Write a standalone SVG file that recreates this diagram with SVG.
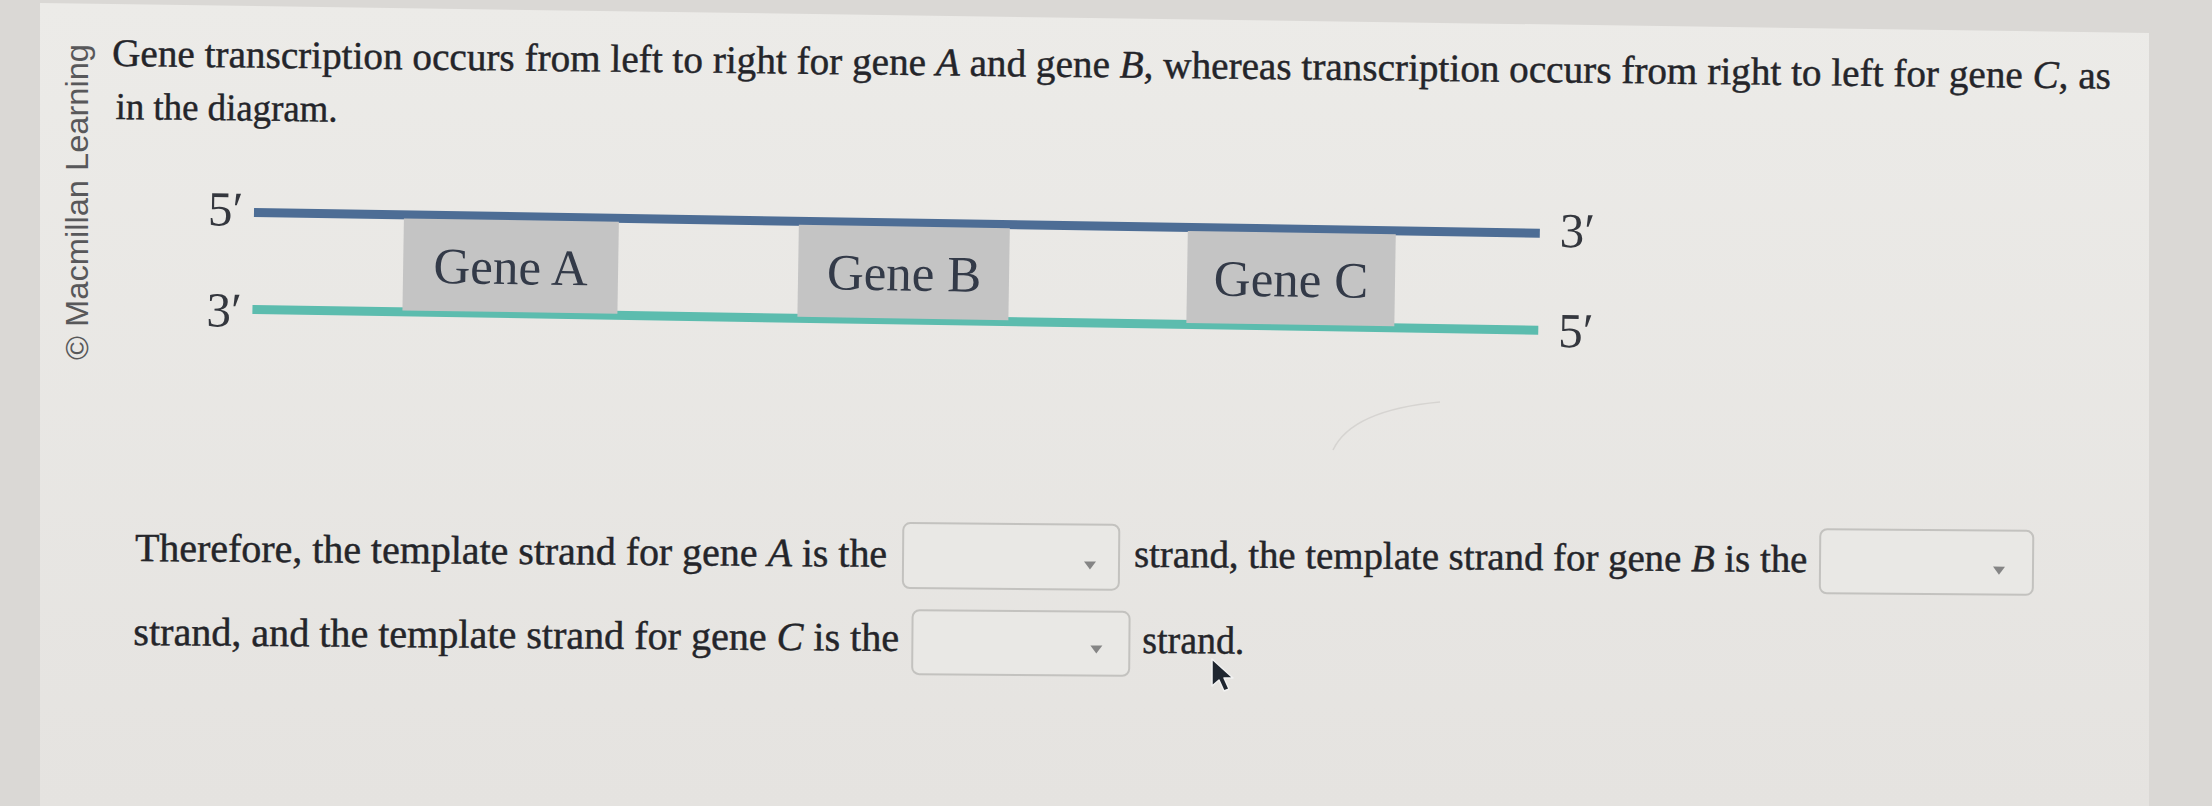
<svg xmlns="http://www.w3.org/2000/svg" width="2212" height="806" viewBox="0 0 2212 806">
<defs>
<style>
.body{font-family:"Liberation Serif","Times New Roman",serif;fill:#24252a;stroke:#24252a;stroke-width:0.45}
.gene{font-family:"Liberation Serif","Times New Roman",serif;font-size:51px;fill:#333a48;text-anchor:middle}
.end{font-family:"Liberation Serif","Times New Roman",serif;font-size:49px;fill:#34373e}
.box{fill:#c4c4c4}
.dd{fill:#e9e8e5;stroke:#c3c2bf;stroke-width:2}
.arr{fill:#858585}
.strand{stroke-width:9;fill:none}
</style>
<linearGradient id="pg" x1="0" y1="0" x2="0" y2="1">
<stop offset="0" stop-color="#ecebe8"/>
<stop offset="1" stop-color="#e5e3e0"/>
</linearGradient>
</defs>
<rect width="2212" height="806" fill="#dad8d5"/>
<polygon points="40,3 2149,33 2149,806 40,806" fill="url(#pg)"/>
<path d="M1333,450 Q1352,410 1440,402" fill="none" stroke="#d6d4d1" stroke-width="1.5"/>

<text x="0" y="0" transform="translate(88,360) rotate(-90)" font-family="Liberation Sans, Arial, sans-serif" font-size="31" fill="#58585a" textLength="316" lengthAdjust="spacingAndGlyphs">© Macmillan Learning</text>

<g id="header" transform="rotate(0.65 112 66)">
<text class="body" x="112" y="66" font-size="39.2">Gene transcription occurs from left to right for gene <tspan font-style="italic">A</tspan> and gene <tspan font-style="italic">B</tspan>, whereas transcription occurs from right to left for gene <tspan font-style="italic">C</tspan>, as</text>
<text class="body" x="116" y="119" font-size="38" textLength="222" lengthAdjust="spacingAndGlyphs">in the diagram.</text>
</g>

<g id="diagram" transform="rotate(0.92 254 212)">
<g id="strands">
<line class="strand" x1="254" y1="212.5" x2="1540" y2="212.5" stroke="#4d6d95"/>
<line class="strand" x1="254" y1="309.5" x2="1540" y2="309.5" stroke="#5cbcae"/>
</g>
<g id="gene-a">
<rect class="box" x="404" y="216" width="215" height="92"/>
<text class="gene" x="511.5" y="280">Gene A</text>
</g>
<g id="gene-b">
<rect class="box" x="799" y="216" width="211" height="92"/>
<text class="gene" x="905" y="280">Gene B</text>
</g>
<g id="gene-c">
<rect class="box" x="1188" y="216" width="208" height="92"/>
<text class="gene" x="1292" y="280">Gene C</text>
</g>
<g id="labels">
<text class="end" x="208" y="226">5′</text>
<text class="end" x="208" y="327">3′</text>
<text class="end" x="1560" y="226">3′</text>
<text class="end" x="1560" y="326">5′</text>
</g>
</g>

<g id="answer" transform="rotate(0.45 135 561)">
<text class="body" x="135" y="561" font-size="39.9">Therefore, the template strand for gene <tspan font-style="italic">A</tspan> is the</text>
<g id="dropdown-a">
<rect class="dd" x="903" y="517" width="216" height="65" rx="7"/>
<polygon class="arr" points="1084,554 1096,554 1090,562"/>
</g>
<text class="body" x="1134" y="559" font-size="38.8">strand, the template strand for gene <tspan font-style="italic">B</tspan> is the</text>
<g id="dropdown-b">
<rect class="dd" x="1820" y="516" width="213" height="64" rx="7"/>
<polygon class="arr" points="1993,552 2005,552 1999,560"/>
</g>
<text class="body" x="134" y="645" font-size="40.1">strand, and the template strand for gene <tspan font-style="italic">C</tspan> is the</text>
<g id="dropdown-c">
<rect class="dd" x="913" y="604" width="217" height="64" rx="7"/>
<polygon class="arr" points="1091,638 1103,638 1097,646"/>
</g>
<text class="body" x="1143" y="645" font-size="39.5" textLength="102" lengthAdjust="spacingAndGlyphs">strand.</text>
</g>

<polygon points="1212,659 1212,686 1219,680 1224,691 1229,689 1224,678 1233,678" fill="#1f2630" stroke="#f2f2f2" stroke-width="1.5" stroke-linejoin="round"/>
</svg>
